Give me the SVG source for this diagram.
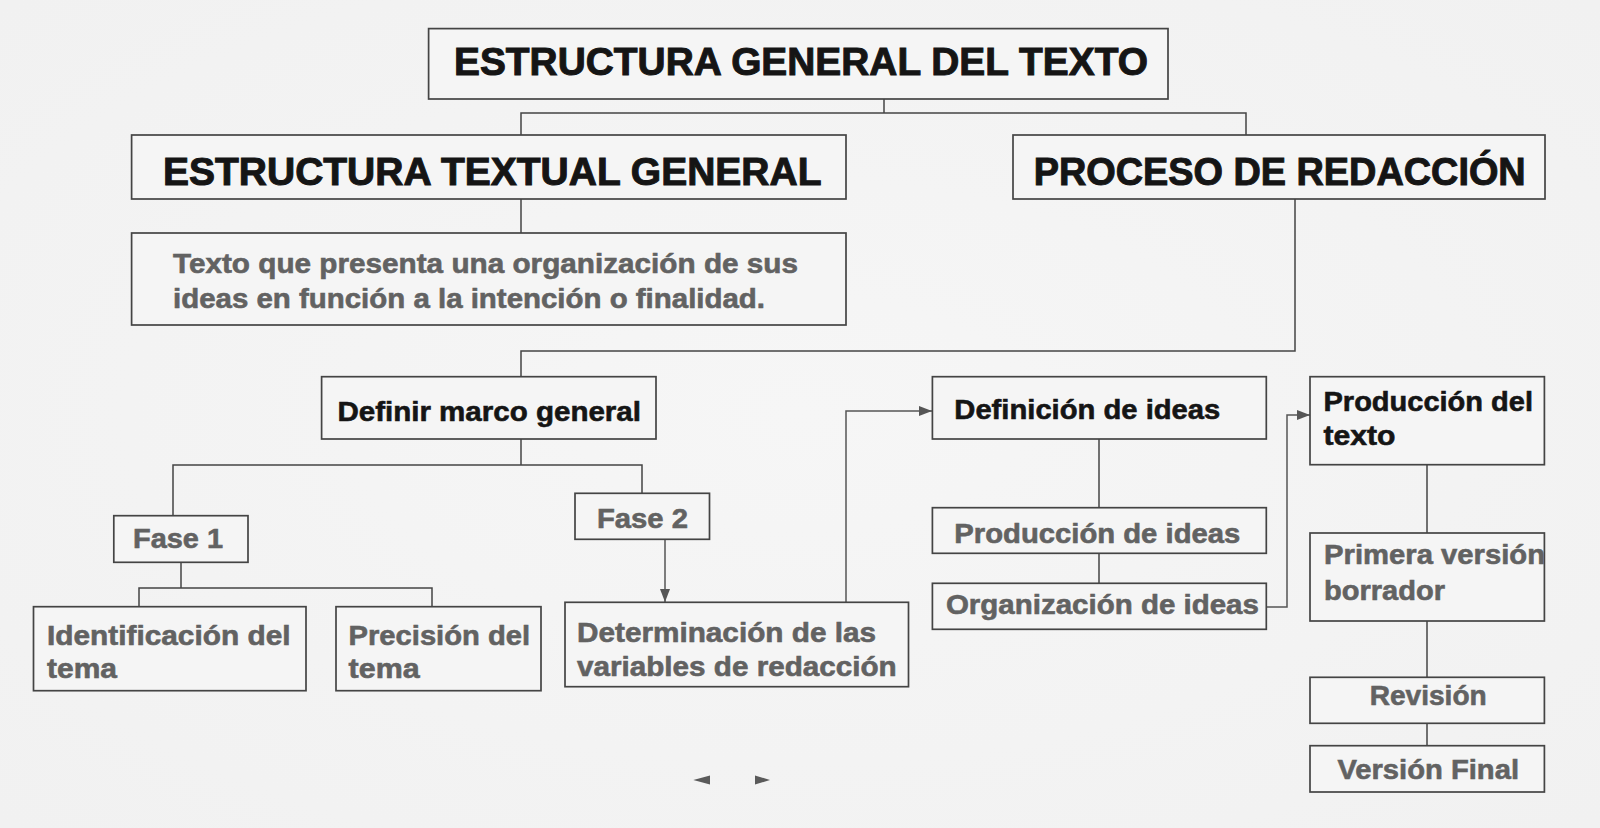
<svg xmlns="http://www.w3.org/2000/svg" width="1600" height="828" viewBox="0 0 1600 828">
<defs>
<marker id="arr" markerUnits="userSpaceOnUse" markerWidth="13" markerHeight="10" refX="13" refY="5" orient="auto">
<path d="M0,0 L13,5 L0,10 z" fill="#555"/>
</marker>
<radialGradient id="bg" cx="50%" cy="50%" r="70%">
<stop offset="0" stop-color="#f6f6f6"/>
<stop offset="1" stop-color="#f1f1f1"/>
</radialGradient>
</defs>
<style>
.box{fill:#f5f5f5;stroke:#444;stroke-width:1.7}
.ln{fill:none;stroke:#444;stroke-width:1.5}
.ar{fill:none;stroke:#555;stroke-width:1.5;marker-end:url(#arr)}
text{font-family:"Liberation Sans Narrow","Liberation Sans",Arial,sans-serif;font-weight:bold}
.big{font-size:38px;fill:#151515;stroke:#151515;stroke-width:1}
.hd{font-size:28px;fill:#151515;stroke:#151515;stroke-width:0.6}
.gr{font-size:28px;fill:#626262;stroke:#626262;stroke-width:0.6}
</style>
<rect width="1600" height="828" fill="url(#bg)"/>

<g id="connectors">
<polyline class="ln" points="884,99 884,113"/>
<polyline class="ln" points="521,135 521,113 1246,113 1246,135"/>
<polyline class="ln" points="521,199 521,233"/>
<polyline class="ln" points="1295,199 1295,351 521,351 521,377"/>
<polyline class="ln" points="521,439 521,465"/>
<polyline class="ln" points="173,516 173,465 642,465 642,493"/>
<polyline class="ln" points="181,562 181,588"/>
<polyline class="ln" points="139,607 139,588 432,588 432,607"/>
<polyline class="ar" points="665,539 665,602"/>
<polyline class="ar" points="846,602 846,411 932,411"/>
<polyline class="ln" points="1099,439 1099,508"/>
<polyline class="ln" points="1099,553 1099,583"/>
<polyline class="ar" points="1266,607 1287,607 1287,415 1310,415"/>
<polyline class="ln" points="1427,465 1427,533"/>
<polyline class="ln" points="1427,621 1427,677"/>
<polyline class="ln" points="1427,723 1427,746"/>
</g>

<g id="n-title">
<rect class="box" x="428.6" y="28.6" width="739.4" height="70.4"/>
<text class="big" x="454" y="75" textLength="694" lengthAdjust="spacingAndGlyphs">ESTRUCTURA GENERAL DEL TEXTO</text>
</g>

<g id="n-etg">
<rect class="box" x="131.6" y="135" width="714.4" height="64"/>
<text class="big" x="163" y="185" textLength="658.5" lengthAdjust="spacingAndGlyphs">ESTRUCTURA TEXTUAL GENERAL</text>
</g>

<g id="n-proceso">
<rect class="box" x="1013" y="135" width="532" height="64"/>
<text class="big" x="1033.7" y="185" textLength="492" lengthAdjust="spacingAndGlyphs">PROCESO DE REDACCIÓN</text>
</g>

<g id="n-desc">
<rect class="box" x="131.6" y="233" width="714.4" height="92"/>
<text class="gr" x="173" y="273" textLength="625" lengthAdjust="spacingAndGlyphs">Texto que presenta una organización de sus</text>
<text class="gr" x="173" y="308" textLength="592" lengthAdjust="spacingAndGlyphs">ideas en función a la intención o finalidad.</text>
</g>

<g id="n-definir">
<rect class="box" x="321.6" y="376.7" width="334.4" height="62.3"/>
<text class="hd" x="337.4" y="421" textLength="303.6" lengthAdjust="spacingAndGlyphs">Definir marco general</text>
</g>

<g id="n-fase1">
<rect class="box" x="113.8" y="515.7" width="134.2" height="46.6"/>
<text class="gr" x="133" y="548.3" textLength="90" lengthAdjust="spacingAndGlyphs">Fase 1</text>
</g>

<g id="n-fase2">
<rect class="box" x="575" y="493.3" width="134.5" height="46"/>
<text class="gr" x="597" y="528.3" textLength="91" lengthAdjust="spacingAndGlyphs">Fase 2</text>
</g>

<g id="n-identificacion">
<rect class="box" x="33.5" y="606.7" width="272.5" height="84"/>
<text class="gr" x="47" y="645" textLength="243.5" lengthAdjust="spacingAndGlyphs">Identificación del</text>
<text class="gr" x="47" y="678.3" textLength="70" lengthAdjust="spacingAndGlyphs">tema</text>
</g>

<g id="n-precision">
<rect class="box" x="336" y="606.7" width="205" height="84"/>
<text class="gr" x="348.6" y="645" textLength="181.4" lengthAdjust="spacingAndGlyphs">Precisión del</text>
<text class="gr" x="348.6" y="678.3" textLength="71" lengthAdjust="spacingAndGlyphs">tema</text>
</g>

<g id="n-determinacion">
<rect class="box" x="565" y="602.3" width="343.5" height="84.4"/>
<text class="gr" x="577" y="641.7" textLength="299" lengthAdjust="spacingAndGlyphs">Determinación de las</text>
<text class="gr" x="577" y="675.7" textLength="319.7" lengthAdjust="spacingAndGlyphs">variables de redacción</text>
</g>

<g id="n-definicion">
<rect class="box" x="932.4" y="376.7" width="333.9" height="62.3"/>
<text class="hd" x="954.3" y="419" textLength="266" lengthAdjust="spacingAndGlyphs">Definición de ideas</text>
</g>

<g id="n-produccion-ideas">
<rect class="box" x="932.4" y="507.7" width="333.9" height="45.6"/>
<text class="gr" x="954.3" y="542.7" textLength="286" lengthAdjust="spacingAndGlyphs">Producción de ideas</text>
</g>

<g id="n-organizacion">
<rect class="box" x="932.4" y="583.3" width="333.9" height="46"/>
<text class="gr" x="945.9" y="614" textLength="313" lengthAdjust="spacingAndGlyphs">Organización de ideas</text>
</g>

<g id="n-produccion-texto">
<rect class="box" x="1310" y="376.7" width="234.4" height="88"/>
<text class="hd" x="1323.5" y="411" textLength="209.5" lengthAdjust="spacingAndGlyphs">Producción del</text>
<text class="hd" x="1323.5" y="445" textLength="72" lengthAdjust="spacingAndGlyphs">texto</text>
</g>

<g id="n-primera">
<rect class="box" x="1310" y="533" width="234.4" height="88"/>
<text class="gr" x="1324" y="564.3" textLength="221" lengthAdjust="spacingAndGlyphs">Primera versión</text>
<text class="gr" x="1324" y="600" textLength="121" lengthAdjust="spacingAndGlyphs">borrador</text>
</g>

<g id="n-revision">
<rect class="box" x="1310" y="677.3" width="234.4" height="46"/>
<text class="gr" x="1369.7" y="705.3" textLength="117" lengthAdjust="spacingAndGlyphs">Revisión</text>
</g>

<g id="n-final">
<rect class="box" x="1310" y="745.7" width="234.4" height="46.3"/>
<text class="gr" x="1337.4" y="779.3" textLength="181.6" lengthAdjust="spacingAndGlyphs">Versión Final</text>
</g>

<g id="nav">
<path d="M693.3,780 L710,775.5 L710,784.5 z" fill="#5a5a5a"/>
<path d="M770,780 L755,775.5 L755,784.5 z" fill="#5a5a5a"/>
</g>
</svg>
